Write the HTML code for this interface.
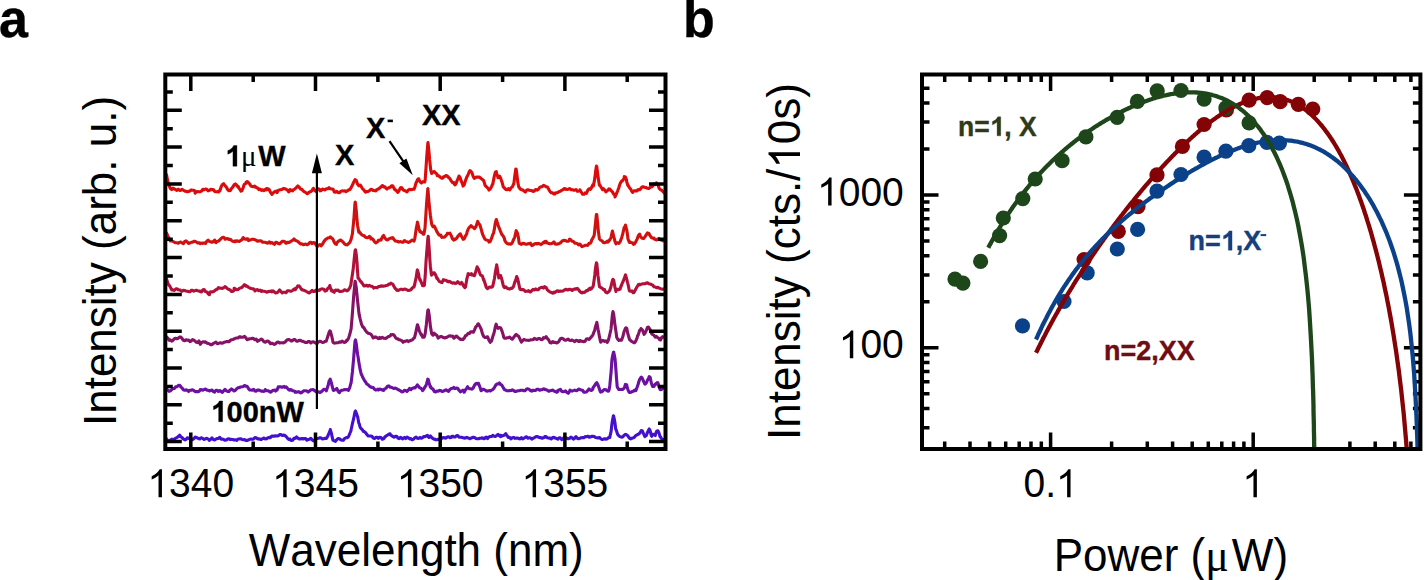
<!DOCTYPE html>
<html><head><meta charset="utf-8"><style>
html,body{margin:0;padding:0;background:#fff;}
svg{display:block;}
text{font-family:"Liberation Sans", sans-serif;}
</style></head><body>
<svg width="1424" height="580" viewBox="0 0 1424 580">
<polyline points="166.5,174.7 167.8,181.2 168.5,183.9 169.1,185.7 170.4,188.7 171.7,189.6 172.0,189.2 173.0,188.2 174.3,188.8 175.6,189.7 176.9,190.4 178.2,189.2 179.5,190.2 180.0,190.5 180.8,190.3 182.1,189.3 183.4,190.2 184.7,191.1 186.0,191.2 187.3,191.7 188.6,191.5 189.9,190.9 191.2,189.9 192.5,190.2 193.8,190.3 195.0,191.1 195.1,193.2 196.4,191.7 197.7,191.6 199.0,191.7 200.3,191.8 201.6,191.0 202.9,189.3 204.2,189.8 205.5,189.0 206.8,189.2 208.1,190.9 209.4,190.4 210.0,190.1 210.7,189.3 212.0,189.8 213.3,189.5 214.6,191.4 215.9,191.8 217.2,191.8 218.5,192.0 219.0,190.9 219.8,190.9 221.1,186.9 221.5,186.0 222.4,184.5 223.6,183.7 223.7,184.2 225.0,185.5 226.0,186.9 226.3,187.0 227.6,189.4 228.8,190.7 228.9,190.3 230.2,190.6 231.5,188.5 232.8,186.9 233.5,186.0 234.1,184.8 235.4,183.9 235.7,184.3 236.7,185.1 238.0,187.2 238.0,186.4 239.3,188.6 240.6,190.3 240.9,191.2 241.9,190.6 243.2,187.7 244.0,184.9 244.5,184.1 245.8,183.6 246.0,182.2 247.1,181.5 248.4,182.5 249.7,184.0 250.0,184.6 251.0,186.1 252.3,186.7 253.6,186.4 254.7,186.9 254.9,186.2 256.2,187.5 257.5,188.0 258.8,189.6 260.1,189.0 261.4,190.3 261.6,190.2 262.7,189.8 264.0,190.6 265.3,189.4 266.6,189.9 266.7,188.5 267.9,188.8 269.2,189.5 270.5,192.4 271.8,194.2 271.9,194.3 273.1,193.0 274.4,191.9 275.7,191.2 277.0,191.0 277.0,192.6 278.3,190.4 279.6,189.8 280.9,189.8 282.2,189.3 282.2,189.3 283.5,188.4 284.8,188.8 286.1,189.2 287.4,190.0 288.7,191.9 289.1,191.7 290.0,189.5 291.3,190.4 292.6,190.9 293.0,190.0 293.9,189.6 295.2,188.7 296.5,187.4 297.8,186.0 298.0,186.7 299.1,187.0 300.4,188.9 301.7,189.2 302.0,189.6 303.0,190.7 304.3,191.7 305.6,192.5 306.9,193.3 307.0,193.8 308.2,193.1 309.5,192.0 310.8,191.6 312.1,190.3 312.2,190.2 313.4,188.3 314.7,190.5 316.0,191.4 317.3,189.2 318.6,188.7 319.9,189.7 320.0,190.9 321.2,190.5 322.5,189.1 323.8,189.5 325.1,189.9 326.4,188.7 327.7,188.8 329.0,187.6 329.5,188.2 330.3,188.8 331.6,189.0 332.9,189.1 334.0,191.1 334.2,191.9 335.5,192.2 336.8,191.3 338.1,192.5 339.4,192.8 339.8,192.3 340.7,191.4 342.0,190.9 343.3,191.0 344.6,190.8 345.9,191.6 347.2,190.9 348.5,190.0 348.5,189.7 349.8,189.8 351.1,187.6 352.3,185.3 352.4,185.2 353.7,182.2 355.0,179.6 355.3,179.7 356.3,180.5 357.6,184.3 358.2,185.0 358.9,185.8 360.2,185.0 361.5,186.9 362.2,188.4 362.8,188.9 364.1,190.3 365.4,192.1 365.7,191.9 366.7,191.6 368.0,191.6 369.3,190.7 370.6,189.6 370.9,189.2 371.9,189.4 373.2,190.5 374.5,190.7 375.8,190.3 376.0,190.9 377.1,189.5 378.4,189.1 379.7,188.1 381.0,186.8 382.3,185.5 382.9,185.8 383.6,187.0 384.9,186.8 386.2,188.4 387.0,189.1 387.5,188.5 388.8,187.8 390.1,187.3 391.4,186.2 391.6,185.7 392.7,185.7 394.0,188.4 395.0,189.9 395.3,189.7 396.6,190.9 397.9,192.4 398.4,191.7 399.2,190.2 400.5,187.7 401.0,187.6 401.8,187.8 403.1,189.9 404.4,190.5 405.7,191.1 407.0,191.2 407.0,192.0 408.3,190.0 409.6,189.2 410.9,189.8 412.2,189.4 413.5,189.3 414.0,189.3 414.8,187.4 416.1,182.6 416.3,182.8 417.4,179.9 418.3,178.7 418.7,178.8 420.0,181.7 421.0,182.5 421.3,183.0 422.6,181.8 423.9,181.6 424.7,182.0 425.2,179.7 426.4,162.2 426.5,159.8 427.8,143.3 428.0,142.6 429.1,153.2 429.6,159.7 430.4,167.2 430.8,170.4 431.7,173.5 432.0,173.2 433.0,172.0 434.0,171.6 434.3,171.5 435.6,173.0 436.9,173.9 437.3,175.7 438.2,175.5 439.5,176.5 440.8,177.6 442.1,178.3 442.9,178.0 443.4,176.8 444.7,176.6 446.0,175.6 447.3,176.0 448.5,177.4 448.6,177.5 449.9,178.7 451.2,180.9 452.5,182.6 453.8,182.5 454.2,183.9 455.1,184.9 456.4,182.7 457.2,180.2 457.7,179.4 459.0,176.0 459.1,176.2 460.3,178.0 461.0,180.5 461.6,181.8 462.9,185.2 463.1,186.1 464.2,184.7 465.5,180.5 466.5,177.9 466.8,177.0 468.1,174.7 469.4,171.4 469.9,170.7 470.7,171.1 472.0,172.8 473.3,176.9 474.3,178.2 474.6,178.4 475.9,177.3 477.2,177.0 478.5,177.1 478.8,177.1 479.8,177.3 481.1,178.6 482.4,179.5 483.7,180.7 484.4,182.9 485.0,185.2 486.3,186.7 487.6,187.9 488.9,189.4 488.9,190.1 490.2,189.0 491.5,186.7 492.5,184.3 492.8,184.1 494.1,177.1 495.4,172.0 496.3,171.5 496.7,173.9 498.0,177.1 498.0,177.8 499.3,176.0 499.5,176.0 500.6,178.0 501.5,180.9 501.9,181.6 503.2,186.7 504.5,188.1 504.6,188.1 505.8,189.4 507.1,189.8 508.4,188.7 509.7,189.9 510.2,189.3 511.0,187.8 512.3,187.0 513.6,183.9 513.8,184.1 514.9,175.0 515.8,169.1 516.2,169.2 517.5,179.5 517.8,182.3 518.8,187.2 519.2,187.2 520.1,188.9 521.4,189.7 522.7,189.9 524.0,191.1 525.0,191.2 525.3,192.1 526.6,190.2 527.9,189.7 529.2,190.3 530.5,190.5 531.8,190.6 533.1,191.4 534.4,191.0 535.0,190.0 535.7,189.5 537.0,190.1 538.3,189.4 539.6,187.6 540.9,186.7 542.2,186.7 543.5,185.4 544.8,185.9 545.0,185.9 546.1,186.7 547.4,187.0 548.7,189.2 549.0,189.8 550.0,191.6 551.3,192.7 552.6,192.9 553.9,194.0 555.0,194.0 555.2,193.1 556.5,192.7 557.8,192.5 559.1,191.6 560.4,191.3 561.7,190.3 563.0,189.7 564.3,188.5 565.3,189.3 565.6,188.8 566.9,189.5 568.2,189.2 569.5,188.5 570.8,189.6 571.6,189.7 572.1,189.6 573.4,190.1 574.7,190.2 576.0,189.6 577.3,191.2 578.6,191.2 579.8,190.6 579.9,189.9 581.2,192.0 582.5,194.2 583.8,194.3 584.0,194.3 585.1,192.9 586.4,193.3 587.7,190.5 589.0,188.7 589.1,188.7 590.3,189.4 591.6,187.5 592.9,184.6 593.3,186.1 594.2,181.9 594.9,177.6 595.5,172.3 596.4,166.1 596.8,166.7 598.0,176.1 598.1,177.6 599.4,185.2 599.5,184.5 600.7,186.6 602.0,188.6 602.6,189.7 603.3,188.6 604.6,189.8 605.9,191.9 607.2,190.8 608.5,189.6 608.8,188.9 609.8,189.1 611.1,190.7 612.4,191.9 613.7,194.1 615.0,195.3 615.0,196.9 616.3,194.0 617.6,191.0 618.9,187.5 619.2,186.3 620.2,183.4 621.5,181.2 621.8,181.3 622.8,180.4 624.1,178.5 624.3,176.6 625.4,177.0 626.5,179.8 626.7,181.8 628.0,185.8 628.5,185.8 629.3,187.6 630.6,189.1 631.9,191.4 632.6,192.4 633.2,191.3 634.5,190.7 635.8,190.9 637.1,190.9 637.8,189.8 638.4,189.6 639.7,189.7 641.0,188.2 642.3,186.9 643.6,186.8 644.9,187.5 646.1,187.6 646.2,187.8 647.5,188.2 648.8,188.4 650.1,187.5 651.4,186.3 652.3,186.6 652.7,186.1 654.0,184.0 654.5,184.3 655.3,184.6 656.4,182.9 656.6,183.2 657.9,184.2 658.5,186.3 659.2,188.4 660.5,189.8 660.5,189.6 661.8,190.2 663.1,191.8 664.0,192.8" fill="none" stroke="#dc0c0c" stroke-width="3.1" stroke-linejoin="round" stroke-linecap="round"/>
<polyline points="166.5,232.8 167.8,235.9 168.5,237.4 169.1,238.4 170.0,240.5 170.4,241.0 171.7,240.8 173.0,241.5 174.3,242.2 175.6,242.8 176.9,242.8 178.2,243.2 179.5,242.3 180.0,242.3 180.8,242.0 182.1,242.9 183.4,243.7 184.7,241.4 186.0,240.9 187.3,242.0 188.6,243.4 189.9,243.0 191.2,242.2 192.5,242.2 193.8,241.4 195.1,241.3 196.4,242.0 197.7,242.9 199.0,242.7 200.0,242.9 200.3,243.7 201.6,243.1 202.9,243.4 204.2,242.8 205.5,243.5 206.8,241.2 208.1,240.2 209.4,241.5 210.7,241.8 212.0,242.3 213.3,241.8 214.6,240.1 215.0,241.1 215.9,242.6 217.2,241.2 218.5,241.2 219.8,239.9 221.1,238.5 222.4,237.6 223.7,237.3 224.5,238.1 225.0,239.2 226.3,238.7 227.6,238.5 228.9,239.5 230.2,239.2 231.5,240.4 232.8,241.3 234.1,241.6 235.0,240.8 235.4,241.7 236.7,240.9 238.0,241.1 239.3,241.4 240.6,240.6 241.9,239.7 243.2,237.6 244.5,238.9 245.8,239.2 247.1,238.8 247.8,238.8 248.4,240.6 249.7,240.0 251.0,239.8 252.3,239.2 253.6,239.3 254.9,239.7 255.0,239.8 256.2,240.2 257.5,241.2 258.8,240.9 260.1,240.7 261.4,241.0 262.7,242.3 264.0,242.3 265.3,242.3 266.6,242.9 267.9,243.1 269.2,241.9 270.0,242.4 270.5,243.2 271.8,242.6 273.1,243.4 274.4,244.3 275.7,242.3 277.0,242.6 278.3,243.6 279.6,243.9 280.9,242.6 282.2,241.3 283.5,241.3 284.8,241.7 285.0,242.3 286.1,243.3 287.4,242.2 288.7,242.6 290.0,242.0 291.3,241.1 292.6,240.3 293.9,239.0 295.0,240.0 295.2,240.4 296.5,240.7 297.8,241.5 299.1,242.7 300.4,243.9 301.7,243.7 303.0,244.6 303.6,244.7 304.3,244.4 305.6,244.0 306.9,244.7 308.2,244.3 309.5,242.8 310.8,242.3 312.0,243.1 312.1,243.6 313.4,242.6 314.7,242.8 316.0,244.9 317.3,246.6 318.6,245.3 319.9,244.5 320.9,245.1 321.2,245.8 322.5,244.3 323.8,241.7 325.1,240.0 326.4,238.8 327.7,238.1 329.0,237.8 330.3,237.6 330.3,236.9 331.6,237.9 332.9,239.2 334.2,242.2 335.5,244.1 336.4,244.4 336.8,242.9 338.1,241.6 339.4,240.6 340.7,240.0 340.7,240.4 342.0,241.0 343.3,242.3 344.6,243.9 345.9,244.8 346.7,244.8 347.2,244.9 348.5,243.6 349.8,242.5 351.1,239.4 351.9,236.0 352.4,233.9 353.7,220.9 353.8,220.0 355.0,202.9 355.3,202.2 356.3,211.0 357.0,220.0 357.6,225.7 358.8,232.3 358.9,231.2 360.2,233.1 361.5,234.5 362.8,235.4 364.0,235.8 364.1,235.7 365.4,237.3 366.7,237.6 368.0,237.7 369.3,236.4 370.6,237.2 370.9,239.0 371.9,238.6 373.2,239.6 374.5,241.7 375.8,242.8 377.1,242.1 377.8,241.6 378.4,240.3 379.7,240.1 381.0,240.0 382.3,237.1 383.6,235.5 383.8,236.0 384.9,238.0 386.2,239.5 387.5,240.0 387.5,240.0 388.8,238.9 390.1,238.3 391.4,237.9 391.6,238.1 392.7,237.6 394.0,239.5 395.3,241.0 396.6,241.3 397.9,241.4 398.4,242.0 399.2,241.9 400.5,241.6 401.8,242.2 403.1,242.2 404.4,240.6 405.0,240.8 405.7,241.5 407.0,241.7 408.3,242.5 409.6,241.9 410.9,241.1 412.2,240.1 413.5,240.1 414.0,241.1 414.8,238.6 415.8,231.8 416.1,229.4 417.4,222.7 417.4,222.0 418.7,227.3 419.0,228.9 420.0,231.7 420.9,232.4 421.3,232.0 422.6,233.3 423.4,234.3 423.9,234.2 425.0,228.0 425.2,225.2 426.5,204.8 426.5,204.6 427.8,188.8 427.9,188.6 429.1,203.8 429.3,205.2 430.4,215.5 431.7,224.3 431.7,224.2 433.0,226.8 434.0,226.7 434.3,226.2 435.6,228.8 436.9,231.6 438.2,233.8 438.5,234.4 439.5,235.2 440.8,235.1 441.8,237.3 442.1,237.2 443.4,237.3 444.7,236.9 446.0,235.4 447.3,233.9 447.4,233.4 448.6,233.6 449.9,233.1 451.2,235.6 452.5,238.8 453.8,240.0 454.2,239.1 455.1,239.4 456.4,238.5 457.7,236.6 459.0,235.0 459.8,234.1 460.3,233.8 461.6,236.5 462.9,238.7 463.1,239.3 464.2,239.0 465.5,235.8 466.8,233.8 467.0,232.3 468.1,229.3 469.4,227.2 470.7,226.2 471.0,225.6 472.0,226.8 473.3,227.4 474.3,228.5 474.6,228.7 475.9,226.7 477.2,223.1 477.7,221.4 478.5,223.3 479.8,224.8 481.1,228.8 482.2,233.1 482.4,233.6 483.7,236.8 485.0,239.2 486.3,240.0 487.6,240.2 488.9,241.0 488.9,242.1 490.2,241.5 491.5,238.4 492.8,234.5 493.5,233.2 494.1,230.7 495.4,222.5 496.3,219.5 496.7,220.6 498.0,224.7 499.3,228.4 499.5,228.8 500.6,231.7 501.9,234.6 503.2,236.0 504.5,238.6 504.6,240.0 505.8,242.2 507.1,243.5 508.4,244.0 509.7,243.8 510.2,244.2 511.0,244.0 512.3,242.8 513.6,239.4 514.5,237.8 514.9,236.4 516.2,230.7 516.5,231.2 517.5,233.2 518.5,237.9 518.8,240.2 519.2,243.4 520.1,243.7 521.4,244.4 522.7,243.2 524.0,243.5 525.3,244.1 526.6,244.2 527.9,243.8 529.2,243.5 530.0,243.9 530.5,243.2 531.8,245.6 533.1,245.1 534.4,243.9 535.7,243.5 537.0,244.0 538.3,243.4 539.6,243.7 540.9,244.6 542.2,243.7 543.5,242.3 544.8,241.5 545.0,242.7 546.1,241.3 547.4,243.1 548.7,243.4 550.0,243.8 551.3,243.6 552.6,243.2 553.9,242.0 555.0,243.3 555.2,243.9 556.5,244.3 557.8,243.9 559.1,243.5 560.4,242.9 561.7,241.5 563.0,240.5 564.3,240.4 565.6,240.6 566.9,241.3 568.2,241.3 569.5,240.3 569.5,239.0 570.8,239.8 572.1,241.2 573.4,241.6 574.7,243.1 575.0,242.9 576.0,243.3 577.3,243.5 578.6,244.8 579.9,244.1 581.2,245.7 581.9,246.6 582.5,246.3 583.8,245.9 585.1,245.3 586.4,245.3 587.7,245.4 589.0,243.4 590.3,243.2 591.2,241.7 591.6,240.3 592.9,237.9 594.2,235.4 594.5,232.7 595.5,222.8 596.4,214.5 596.8,214.7 598.1,228.2 598.2,230.1 599.4,238.5 599.5,239.0 600.7,240.2 602.0,240.8 603.3,242.4 604.6,242.7 605.9,242.3 607.2,241.1 607.8,242.1 608.5,241.5 609.8,239.8 610.8,238.0 611.1,236.8 612.4,231.0 612.5,231.3 613.7,236.4 614.2,238.1 615.0,241.6 616.0,243.9 616.3,242.8 617.6,242.7 618.9,243.4 620.2,241.6 621.0,239.4 621.5,238.3 622.8,233.7 623.5,230.7 624.1,227.7 625.4,225.8 625.4,225.0 626.7,229.8 627.3,233.3 628.0,239.0 629.3,242.3 629.5,241.5 630.6,242.4 631.9,242.8 633.2,243.3 633.6,244.3 634.5,243.9 635.8,241.7 637.1,239.1 638.4,235.5 639.7,234.1 639.9,235.4 641.0,237.3 642.3,238.3 643.6,238.6 644.0,238.1 644.9,236.9 646.2,234.9 647.5,233.0 648.1,233.8 648.8,233.4 650.1,235.6 651.4,237.5 652.7,238.1 654.0,238.0 654.3,239.1 655.3,239.4 656.6,240.0 657.9,239.0 659.2,238.6 660.5,239.9 661.8,239.9 662.6,240.8 663.1,240.9 664.0,240.6" fill="none" stroke="#d21010" stroke-width="3.1" stroke-linejoin="round" stroke-linecap="round"/>
<polyline points="166.5,278.8 167.8,282.9 168.5,284.7 169.1,285.1 170.4,287.2 171.7,289.8 171.9,289.2 173.0,290.1 174.3,290.4 175.6,289.1 176.9,288.7 178.2,289.8 179.5,290.1 180.0,289.9 180.8,290.6 182.1,291.3 183.4,290.3 184.7,290.5 186.0,290.9 187.3,291.2 188.6,291.6 189.9,291.7 190.9,291.0 191.2,290.3 192.5,290.4 193.8,291.2 195.1,290.6 196.4,290.3 197.7,290.8 199.0,291.1 200.0,291.0 200.3,291.7 201.6,291.9 202.9,289.8 204.2,289.6 205.5,291.6 206.8,291.9 208.1,293.7 209.4,294.7 209.8,292.4 210.7,291.8 212.0,291.9 213.3,291.7 214.6,290.7 215.9,289.7 217.2,289.2 218.5,287.6 219.8,288.1 221.1,288.3 222.4,288.4 223.7,287.7 224.5,287.2 225.0,286.6 226.3,287.5 227.6,288.8 228.9,289.6 230.2,290.0 231.5,291.5 232.8,291.5 234.0,290.3 234.1,288.2 235.4,288.9 236.7,289.8 238.0,289.4 239.3,288.4 240.6,287.8 241.9,287.6 243.2,286.0 244.5,284.6 245.8,285.7 246.0,286.3 247.1,286.1 248.4,287.2 249.7,288.0 251.0,288.4 252.3,288.9 253.6,288.8 254.7,289.8 254.9,290.9 256.2,290.0 257.5,289.6 258.8,290.7 260.1,290.0 261.4,291.3 262.0,290.7 262.7,291.2 264.0,291.3 265.3,291.5 266.6,292.2 267.9,291.7 269.2,291.3 270.5,291.5 271.8,290.9 271.9,291.9 273.1,290.8 274.4,292.0 275.7,292.9 277.0,292.8 278.3,291.6 279.6,290.0 280.9,291.5 282.2,292.9 283.5,292.2 284.8,292.3 285.7,292.2 286.1,292.7 287.4,290.8 288.7,290.8 290.0,291.1 291.3,291.2 292.6,290.5 293.9,289.2 295.0,288.7 295.2,289.8 296.5,287.8 297.8,285.9 298.1,286.1 299.1,285.9 300.4,287.7 301.7,289.8 302.0,289.3 303.0,290.1 304.3,290.5 305.6,290.9 306.9,291.8 307.4,291.9 308.2,292.8 309.5,292.9 310.8,291.6 312.1,290.3 313.4,291.5 314.7,291.4 316.0,290.0 317.3,289.9 318.6,290.4 319.8,290.2 319.9,289.7 321.2,289.0 322.5,288.9 323.8,289.2 325.1,291.1 326.4,290.6 327.5,288.7 327.7,288.5 329.0,287.4 329.8,285.5 330.3,287.7 331.6,290.9 332.0,290.2 332.9,291.4 334.2,292.3 334.3,291.2 335.5,290.0 336.8,290.4 338.1,290.0 339.4,291.4 340.7,291.5 342.0,291.2 343.3,290.9 344.6,289.8 345.9,290.2 346.8,290.9 347.2,290.9 348.5,289.8 349.8,287.7 350.9,284.9 351.1,283.0 352.4,274.5 353.3,268.1 353.7,264.0 355.0,251.3 355.5,249.8 356.3,254.8 357.0,262.4 357.6,272.2 358.1,278.3 358.9,278.6 360.2,281.1 361.3,281.8 361.5,282.5 362.8,284.1 364.1,286.0 365.4,285.7 366.7,285.2 367.5,285.8 368.0,286.1 369.3,285.4 370.6,286.1 371.9,286.2 373.2,287.2 373.7,288.1 374.5,287.5 375.8,287.5 377.1,287.8 378.4,286.5 379.7,286.5 381.0,285.9 382.3,286.1 383.6,286.0 384.0,286.1 384.9,285.9 386.2,285.6 387.5,285.3 388.8,284.0 390.1,284.1 390.9,283.1 391.4,283.6 392.7,284.1 394.0,286.4 395.3,288.6 396.4,289.3 396.6,290.3 397.9,290.4 399.2,290.0 400.5,289.2 401.8,289.3 403.1,289.7 404.4,289.0 405.7,289.3 407.0,289.9 408.3,290.5 409.6,290.3 410.9,289.8 410.9,289.8 412.2,288.0 413.5,287.1 414.0,287.1 414.8,284.0 415.5,280.3 416.1,277.9 417.2,270.5 417.4,269.9 418.7,274.5 419.0,277.0 420.0,280.4 420.3,279.9 421.3,282.3 422.6,285.8 423.9,285.7 424.4,285.0 425.2,276.0 426.0,261.8 426.5,255.3 427.8,238.8 428.2,236.2 429.1,247.3 430.0,261.9 430.4,266.7 431.5,275.1 431.7,274.0 433.0,273.0 434.1,274.0 434.3,272.8 435.6,274.8 436.9,278.4 436.9,277.6 438.2,279.8 439.5,281.6 440.8,282.2 442.1,282.6 442.3,281.9 443.4,279.7 444.7,280.2 446.0,280.3 447.3,281.4 448.6,281.8 448.7,281.4 449.9,281.5 451.2,282.6 452.5,283.2 453.8,282.7 455.1,283.5 455.2,283.2 456.4,283.3 457.7,281.7 459.0,283.0 460.3,284.0 460.6,283.8 461.6,282.4 462.9,284.6 464.2,286.9 464.9,287.6 465.5,286.9 466.8,279.2 468.1,274.2 468.1,273.5 469.4,274.2 470.7,274.4 471.4,273.7 472.0,275.0 473.3,275.1 474.2,275.7 474.6,275.4 475.9,271.1 477.2,266.8 477.4,267.7 478.5,269.1 479.8,273.4 480.6,275.0 481.1,275.4 482.4,276.0 483.7,280.4 483.7,279.2 485.0,283.3 486.3,287.5 487.5,288.7 487.6,288.5 488.9,287.3 490.2,287.1 491.5,287.2 491.9,287.1 492.8,286.1 494.1,280.1 494.5,278.2 495.4,272.1 496.6,265.4 496.7,264.8 498.0,273.1 498.8,278.0 499.3,277.7 500.5,276.0 500.6,275.5 501.9,279.6 503.2,285.2 503.7,286.5 504.5,287.6 505.8,286.9 507.1,288.3 508.4,288.7 509.7,289.1 511.0,288.2 511.3,288.4 512.3,288.2 513.6,286.4 514.8,281.9 514.9,282.3 516.2,278.4 516.7,276.5 517.5,278.5 518.5,282.5 518.8,284.2 519.9,288.8 520.1,289.3 521.4,289.8 522.7,289.5 524.0,290.0 525.3,291.4 526.6,291.3 527.9,291.0 528.5,290.7 529.2,291.6 530.5,292.0 531.8,290.6 533.1,289.4 534.4,289.9 535.7,288.9 537.0,289.8 538.3,289.7 539.6,288.1 540.9,287.6 542.2,287.2 543.5,287.2 543.6,288.1 544.8,286.7 546.1,287.6 547.4,289.9 548.7,291.1 550.0,292.1 551.3,292.4 552.6,293.2 553.9,292.2 554.4,292.8 555.2,292.3 556.5,291.3 557.8,290.8 558.7,291.5 559.1,291.3 560.4,291.0 561.7,291.2 563.0,291.0 564.3,290.1 565.6,289.4 566.9,289.6 567.4,290.0 568.2,289.9 569.5,289.2 570.8,289.6 572.1,290.5 573.4,289.3 574.7,289.1 575.7,289.3 576.0,288.7 577.3,288.4 578.6,289.8 579.9,291.5 581.2,292.6 581.9,292.9 582.5,292.2 583.8,292.5 585.1,292.0 586.4,290.5 587.7,290.7 589.0,288.8 590.2,288.2 590.3,289.5 591.6,288.6 592.9,286.9 593.3,285.5 594.2,279.6 594.8,275.0 595.5,268.1 596.4,262.9 596.8,263.5 598.0,275.7 598.1,276.4 599.4,286.2 599.5,286.7 600.7,287.5 602.0,288.1 603.3,289.6 604.6,289.6 604.7,290.4 605.9,292.3 607.2,292.9 608.5,291.8 608.8,291.8 609.8,290.2 611.1,286.3 611.2,285.4 612.4,280.5 613.0,279.3 613.7,280.4 614.7,285.9 615.0,287.7 616.0,291.5 616.3,289.8 617.6,289.3 618.9,289.8 620.2,288.9 620.2,288.4 621.5,285.1 622.8,282.0 623.3,281.0 624.1,278.9 625.4,275.4 625.4,274.7 626.7,279.0 627.5,282.3 628.0,284.1 629.3,290.5 629.5,290.9 630.6,291.2 631.9,290.9 633.2,292.8 633.6,292.8 634.5,291.6 635.8,289.0 637.1,286.7 638.4,284.6 639.7,284.3 639.9,284.8 641.0,284.4 642.3,283.9 643.6,283.7 644.9,283.8 646.1,283.1 646.2,283.2 647.5,282.8 648.8,283.7 650.1,284.0 651.4,284.4 652.3,285.1 652.7,285.0 654.0,286.8 655.3,287.0 656.4,287.6 656.6,287.8 657.9,287.3 659.2,288.1 660.5,288.7 661.8,289.0 662.6,289.3 663.1,289.0 664.0,289.2" fill="none" stroke="#b2103a" stroke-width="3.1" stroke-linejoin="round" stroke-linecap="round"/>
<polyline points="166.5,337.0 167.8,338.1 169.1,340.3 170.0,339.9 170.4,339.8 171.7,341.1 173.0,340.4 174.3,338.7 175.6,338.3 176.9,338.7 178.2,338.2 179.5,337.1 180.8,337.1 182.1,338.6 182.2,338.7 183.4,340.3 184.7,340.8 186.0,339.7 187.3,340.2 188.6,340.1 189.9,341.6 191.2,341.0 192.5,339.5 193.8,340.2 195.1,341.1 196.4,342.2 197.7,342.6 199.0,341.0 199.5,342.3 200.3,344.3 201.6,342.6 202.9,341.8 204.2,342.1 205.5,341.9 206.8,343.0 208.1,343.4 209.4,343.9 210.7,344.6 212.0,344.7 213.3,343.4 214.6,342.8 215.9,342.0 216.7,343.2 217.2,343.7 218.5,343.4 219.8,342.8 221.1,342.9 222.4,343.3 223.7,342.5 225.0,342.1 226.3,341.6 227.6,341.6 228.9,341.7 230.0,340.9 230.2,340.2 231.5,339.8 232.8,339.5 234.1,339.1 235.4,338.2 236.7,338.0 238.0,338.0 239.3,336.8 240.6,336.7 240.9,337.3 241.9,337.3 243.2,337.1 244.5,336.4 245.8,337.6 247.1,339.7 248.4,339.3 249.7,338.8 251.0,338.8 252.3,338.2 253.6,338.5 254.7,339.7 254.9,339.7 256.2,339.1 257.5,341.3 258.8,340.5 260.1,339.9 261.4,339.1 262.7,340.1 264.0,341.8 265.3,342.2 266.6,341.2 267.9,341.0 269.2,342.0 270.5,343.7 271.8,343.2 271.9,343.3 273.1,343.8 274.4,344.4 275.7,343.6 277.0,342.3 278.3,342.1 279.6,343.0 280.9,342.7 282.2,342.7 283.5,342.9 284.8,342.2 285.7,341.5 286.1,340.8 287.4,339.8 288.7,339.5 290.0,340.1 291.3,341.1 292.6,340.5 293.9,339.5 295.0,339.5 295.2,339.8 296.5,341.2 297.8,341.1 299.1,340.4 300.4,340.4 301.7,341.1 303.0,341.3 304.3,342.0 305.6,342.5 306.9,342.5 308.2,341.5 309.5,341.6 310.8,343.0 312.1,342.0 313.4,341.7 314.7,342.6 315.7,342.9 316.0,343.1 317.3,343.3 318.6,341.8 319.9,341.2 321.2,341.7 322.5,342.5 323.8,342.2 325.1,341.4 326.0,341.2 326.4,340.9 327.7,336.6 328.0,335.9 329.0,332.5 329.8,330.9 330.3,331.3 331.6,335.8 331.6,335.5 332.9,341.8 333.3,342.7 334.2,343.1 335.5,343.0 336.8,342.8 338.1,342.8 339.4,341.9 340.7,342.2 342.0,341.1 343.3,342.0 344.6,342.4 345.9,341.8 346.8,340.0 347.2,340.4 348.5,338.4 349.8,334.3 350.9,329.6 351.1,329.2 352.4,313.3 353.0,305.1 353.7,295.9 355.0,282.0 355.2,281.3 356.3,287.8 357.0,294.9 357.6,301.1 358.9,312.8 359.2,314.7 360.2,319.2 361.5,324.1 362.8,327.1 363.3,327.1 364.1,328.0 365.4,330.4 366.7,332.1 367.5,332.7 368.0,333.2 369.3,333.6 370.6,333.9 371.9,335.6 373.2,337.9 373.7,337.1 374.5,337.5 375.8,336.9 377.1,337.8 378.4,338.7 379.7,337.5 379.9,338.4 381.0,338.2 382.3,337.4 383.6,338.2 384.9,338.3 385.0,338.4 386.2,338.2 387.5,337.1 388.8,336.4 390.1,336.1 390.9,334.7 391.4,334.9 392.7,334.6 394.0,335.0 395.3,337.2 396.6,338.6 397.9,338.8 398.5,339.5 399.2,339.8 400.5,340.1 401.8,340.7 403.1,342.3 404.4,341.4 405.7,341.2 407.0,340.6 408.3,341.6 409.6,340.8 410.9,340.6 410.9,340.2 412.2,339.9 413.5,338.4 414.5,337.7 414.8,336.5 416.0,331.7 416.1,330.9 417.4,324.7 417.6,324.9 418.7,328.3 419.3,330.9 420.0,332.4 421.3,335.1 421.3,334.0 422.6,337.3 423.9,337.3 424.4,336.6 425.2,333.6 426.3,325.0 426.5,323.0 427.8,310.3 428.3,309.8 429.1,314.5 430.0,322.4 430.4,326.3 431.5,332.7 431.7,333.8 433.0,335.1 434.1,333.2 434.3,333.7 435.6,334.4 436.9,335.4 437.9,337.3 438.2,338.1 439.5,337.1 440.8,336.5 442.1,336.8 443.4,337.6 444.7,338.0 446.0,337.6 446.6,337.2 447.3,337.1 448.6,336.2 449.9,335.8 451.2,336.2 452.5,336.1 453.0,336.3 453.8,338.2 455.1,337.2 456.4,336.0 457.7,337.2 459.0,338.2 460.3,339.5 461.6,339.3 462.9,339.6 463.8,338.5 464.2,338.3 465.5,335.7 466.8,335.2 468.1,333.3 468.1,333.5 469.4,333.4 470.7,331.8 472.0,331.9 472.4,331.9 473.3,332.2 474.6,329.7 475.9,326.7 477.2,325.6 477.8,324.0 478.5,323.9 479.8,326.4 481.1,329.0 482.1,332.4 482.4,333.6 483.7,336.5 485.0,337.4 486.3,337.5 486.5,337.1 487.6,336.8 488.9,340.1 490.2,342.3 490.8,341.5 491.5,341.1 492.8,336.6 494.0,332.9 494.1,332.8 495.4,326.5 496.2,324.1 496.7,326.1 498.0,328.3 498.0,328.1 499.3,327.6 500.0,327.8 500.6,327.7 501.9,330.8 503.2,334.9 503.7,337.2 504.5,338.1 505.8,338.2 507.1,337.7 508.4,337.7 509.7,337.0 511.0,338.5 511.3,338.5 512.3,339.2 513.6,337.6 514.9,335.7 516.2,334.4 516.7,335.2 517.5,335.6 518.8,336.6 520.1,339.4 521.4,342.1 522.0,341.1 522.7,340.8 524.0,339.4 525.3,339.9 526.6,340.3 527.9,340.2 529.2,340.4 530.5,339.9 531.8,339.8 533.1,339.8 534.4,338.4 535.7,339.1 537.0,339.5 538.3,338.6 539.6,338.6 540.9,339.5 542.2,339.6 543.5,337.7 543.6,338.2 544.8,338.0 546.1,336.7 547.4,338.6 548.7,339.9 550.0,342.6 551.3,343.0 552.6,341.6 553.9,342.4 555.0,342.4 555.2,342.3 556.5,343.0 557.8,342.4 559.1,341.1 560.4,338.7 561.7,338.2 563.0,338.7 564.3,339.9 565.6,340.2 566.9,339.8 567.4,339.5 568.2,339.1 569.5,340.2 570.8,340.6 572.1,340.0 573.4,340.8 574.7,341.6 576.0,340.4 577.3,340.6 578.6,341.4 579.8,341.4 579.9,340.5 581.2,340.9 582.5,341.2 583.8,341.7 585.1,341.3 586.4,339.0 587.7,338.7 589.0,339.5 590.3,338.1 591.2,337.2 591.6,336.5 592.9,334.9 594.2,331.3 594.5,331.0 595.5,326.7 596.8,322.8 596.8,322.3 598.1,329.5 598.5,331.3 599.4,336.4 600.1,339.8 600.7,342.2 602.0,340.6 603.3,340.6 604.6,341.4 605.9,340.8 606.7,341.7 607.2,342.5 608.5,339.8 609.8,334.5 610.8,330.0 611.1,328.2 612.4,314.6 613.0,311.6 613.7,314.4 615.0,325.4 615.0,324.9 616.3,334.0 616.7,337.2 617.6,338.9 618.9,340.4 620.2,339.8 621.2,340.2 621.5,340.2 622.8,336.8 623.7,333.1 624.1,331.5 625.4,328.4 625.8,327.8 626.7,328.1 627.8,333.6 628.0,334.2 629.3,338.7 629.5,339.5 630.6,340.6 631.9,341.6 633.2,342.1 633.6,342.8 634.5,342.7 635.8,341.0 637.1,337.8 637.5,336.1 638.4,334.4 639.7,330.3 640.9,329.1 641.0,328.5 642.3,329.8 643.6,332.8 644.0,334.3 644.9,333.4 646.2,330.7 647.5,327.2 648.5,327.1 648.8,327.6 650.1,329.5 651.4,333.2 652.3,334.4 652.7,334.5 654.0,335.3 655.3,337.2 656.4,336.5 656.6,336.8 657.9,337.8 659.2,338.6 659.5,339.6 660.5,340.0 661.8,337.3 662.6,336.7 663.1,337.1 664.0,337.0" fill="none" stroke="#861266" stroke-width="3.1" stroke-linejoin="round" stroke-linecap="round"/>
<polyline points="166.5,389.0 167.8,390.1 169.1,391.4 170.4,390.9 171.7,389.6 172.0,389.3 173.0,388.6 174.3,388.5 175.6,386.9 176.9,386.7 178.2,385.6 179.5,385.2 180.5,386.1 180.8,387.1 182.1,388.0 183.4,389.8 184.7,390.3 186.0,389.9 186.0,389.8 187.3,390.2 188.6,391.5 189.9,390.2 191.2,390.2 192.5,389.7 193.8,390.6 195.1,391.6 196.4,391.5 197.7,391.6 199.0,391.4 200.0,390.4 200.3,389.5 201.6,389.8 202.9,390.2 204.2,389.5 205.5,389.1 206.8,390.1 208.1,390.3 209.4,391.0 210.7,390.4 212.0,390.0 213.3,391.5 214.6,392.1 215.0,391.1 215.9,390.4 217.2,390.3 218.5,391.5 219.8,390.5 221.1,391.5 222.4,392.4 223.7,390.7 225.0,389.3 226.3,390.7 227.6,391.5 228.9,391.5 230.0,390.0 230.2,390.0 231.5,388.9 232.8,389.9 234.1,391.0 235.4,390.3 236.7,388.7 238.0,387.8 239.3,387.6 240.6,387.0 241.9,386.8 243.2,386.5 244.5,385.6 245.8,386.0 246.0,386.3 247.1,386.3 248.4,388.4 249.7,390.0 251.0,390.0 252.0,390.2 252.3,390.0 253.6,389.3 254.9,391.0 256.2,391.2 257.5,390.0 258.8,390.1 260.1,390.4 261.4,391.3 262.7,391.0 264.0,391.4 265.0,390.6 265.3,389.6 266.6,390.8 267.9,390.7 269.2,391.4 270.5,392.2 271.8,391.2 273.1,390.2 274.4,390.1 275.0,390.0 275.7,391.0 277.0,390.1 278.3,386.9 279.6,386.7 280.9,386.9 282.2,387.3 283.5,386.8 284.0,386.4 284.8,387.4 286.1,386.8 287.4,388.3 288.7,389.7 290.0,390.2 290.0,389.5 291.3,389.7 292.6,390.8 293.9,391.0 295.0,391.4 295.2,392.3 296.5,392.1 297.8,391.9 299.1,391.7 300.4,392.9 301.7,392.5 303.0,391.4 304.3,390.7 305.6,390.8 306.9,391.1 308.2,392.1 309.5,391.1 310.8,389.8 312.1,389.7 313.4,389.6 314.7,390.7 315.7,391.3 316.0,391.7 317.3,391.4 318.6,391.9 319.9,392.5 321.2,391.9 322.5,390.6 323.8,389.2 325.1,389.5 326.1,390.1 326.4,390.9 327.7,386.5 328.3,384.9 329.0,381.3 330.2,379.2 330.3,379.4 331.6,383.4 332.0,385.8 332.9,388.9 333.3,390.4 334.2,390.3 335.5,389.4 336.8,388.5 338.1,391.3 339.4,392.6 340.7,390.7 342.0,390.2 343.3,389.9 344.6,389.5 345.9,389.8 346.8,389.6 347.2,389.6 348.5,390.3 349.8,387.4 350.9,383.1 351.1,383.1 352.4,371.9 353.5,360.0 353.7,357.6 355.0,341.3 355.5,339.9 356.3,344.0 357.0,349.9 357.6,354.2 358.1,357.2 358.9,362.4 360.2,369.9 361.3,374.3 361.5,374.3 362.8,377.5 364.1,379.8 365.4,381.8 365.4,381.6 366.7,383.9 368.0,384.7 369.3,386.0 370.6,387.1 371.6,387.0 371.9,387.4 373.2,387.6 374.5,389.2 375.8,390.1 377.1,389.8 377.8,389.1 378.4,390.0 379.7,389.0 381.0,389.4 382.3,390.1 383.6,390.4 384.0,389.4 384.9,388.9 386.2,388.0 387.5,386.3 388.8,385.9 390.1,387.2 390.2,387.0 391.4,387.2 392.7,388.1 394.0,388.4 395.3,388.1 396.6,388.7 397.9,389.6 398.5,389.7 399.2,390.1 400.5,390.8 401.8,391.9 403.1,391.8 404.4,390.3 405.7,390.5 407.0,391.5 408.3,390.2 409.6,388.4 410.9,389.6 410.9,389.4 412.2,388.5 413.5,387.9 414.8,387.5 415.0,387.9 416.1,386.7 417.2,385.2 417.4,384.9 418.7,386.4 419.5,387.7 420.0,387.9 421.3,388.5 422.3,390.0 422.6,390.7 423.9,388.9 425.2,386.5 425.8,386.0 426.5,383.9 427.8,379.2 428.3,379.7 429.1,382.9 430.4,387.3 430.5,386.2 431.6,388.4 431.7,388.6 433.0,389.0 434.3,391.5 435.6,391.9 436.9,391.1 438.2,391.1 439.5,390.3 440.2,390.8 440.8,390.6 442.1,391.5 443.4,391.2 444.7,390.4 446.0,389.8 447.3,390.8 448.6,391.4 449.9,389.4 451.2,388.5 452.5,388.2 453.4,388.2 453.8,387.4 455.1,388.6 456.4,388.1 457.7,388.3 459.0,390.3 460.3,391.8 461.6,391.2 462.9,390.2 463.9,391.6 464.2,392.2 465.5,389.8 466.8,388.1 467.7,386.7 468.1,387.8 469.4,388.7 470.7,388.7 471.5,388.9 472.0,389.2 473.3,387.9 474.6,385.0 475.9,383.5 477.1,383.4 477.2,383.8 478.5,383.4 479.8,386.8 481.1,390.7 481.9,390.2 482.4,389.3 483.7,389.2 485.0,390.0 486.3,390.9 487.6,391.1 488.9,390.8 490.2,390.5 490.4,391.0 491.5,390.3 492.8,389.5 494.1,388.1 495.4,385.8 496.1,384.6 496.7,384.1 498.0,383.9 499.3,382.9 500.6,384.3 500.8,384.7 501.9,385.2 503.2,387.6 504.5,389.5 504.6,389.7 505.8,390.1 507.1,390.8 508.4,390.8 509.7,390.6 511.0,390.5 512.3,389.9 513.6,390.5 514.9,391.5 516.2,391.4 517.5,390.8 518.8,390.7 519.8,390.7 520.1,390.4 521.4,390.3 522.7,390.3 524.0,390.8 525.3,390.6 526.6,389.1 527.9,388.8 529.2,389.4 530.5,390.6 531.8,391.2 532.0,390.7 533.1,390.2 534.4,390.5 535.7,390.4 537.0,389.2 538.3,389.2 539.6,390.2 540.9,389.7 542.2,389.6 543.5,388.9 544.5,389.5 544.8,389.1 546.1,389.8 547.4,390.2 548.7,391.2 550.0,390.8 551.3,390.4 552.6,390.1 553.9,391.1 555.2,391.5 556.5,392.3 557.7,391.6 557.8,390.5 559.1,390.1 560.4,389.3 561.7,391.3 563.0,391.8 564.3,391.5 565.6,390.9 566.9,392.5 568.2,393.3 569.5,391.5 570.0,390.1 570.8,390.6 572.1,391.1 573.4,390.6 574.7,390.1 576.0,390.7 577.3,390.4 578.6,389.1 579.9,389.5 581.2,389.9 582.5,390.2 583.4,391.5 583.8,392.2 585.1,392.2 586.4,392.0 587.7,390.6 589.0,389.0 590.3,390.2 591.6,390.4 592.9,389.1 592.9,388.0 594.2,386.2 595.5,384.1 596.7,382.7 596.8,382.6 598.1,385.2 599.4,389.1 600.1,391.1 600.7,392.1 602.0,391.8 603.3,390.3 604.3,389.6 604.6,389.5 605.9,389.8 607.2,390.9 608.5,391.1 609.0,390.3 609.8,385.4 610.8,375.0 611.1,372.1 611.9,360.1 612.4,356.8 613.4,352.4 613.7,352.1 615.0,358.5 615.3,362.0 616.3,375.1 616.3,375.9 617.2,386.6 617.6,387.7 618.9,389.5 620.2,389.5 621.4,389.4 621.5,389.5 622.8,389.4 624.1,388.2 624.5,387.4 625.4,384.4 626.7,384.7 626.7,385.5 628.0,389.9 629.0,392.0 629.3,392.4 630.6,392.4 631.9,391.7 633.2,391.2 634.5,390.2 634.6,390.6 635.8,390.6 637.1,387.3 638.4,383.4 638.5,382.6 639.7,379.4 641.0,377.4 641.3,377.1 642.3,378.3 643.6,381.3 644.9,384.2 645.1,384.2 646.2,383.2 647.5,380.2 648.8,377.7 649.2,376.7 650.1,377.1 651.4,383.2 652.6,386.4 652.7,386.0 654.0,386.4 655.3,384.1 655.5,384.6 656.6,383.2 657.4,382.6 657.9,382.8 659.2,387.2 660.2,389.7 660.5,389.7 661.8,389.2 663.0,387.6 663.1,386.9 664.0,387.8" fill="none" stroke="#6c10a2" stroke-width="3.1" stroke-linejoin="round" stroke-linecap="round"/>
<polyline points="166.5,438.9 167.8,440.7 169.1,441.0 170.4,440.0 171.7,439.4 172.0,439.1 173.0,439.6 174.3,439.2 175.6,438.1 176.9,437.6 178.2,436.5 179.5,435.6 179.7,435.1 180.8,436.8 182.1,437.6 183.4,439.0 184.7,439.6 185.0,439.9 186.0,439.4 187.3,437.8 188.6,438.3 189.9,439.0 191.2,438.7 192.5,439.6 193.8,438.8 195.1,437.1 196.4,437.4 197.7,438.2 199.0,438.8 200.0,438.9 200.3,438.2 201.6,437.8 202.9,438.5 204.2,439.5 205.5,438.8 206.8,438.3 208.1,439.0 209.4,440.3 210.7,439.2 212.0,437.8 213.3,439.6 214.6,440.0 215.9,439.1 217.2,438.5 218.5,438.4 219.8,437.3 221.1,439.1 222.4,439.1 223.7,439.4 225.0,440.3 226.3,439.9 227.6,439.1 228.9,438.8 230.0,439.5 230.2,439.2 231.5,439.4 232.8,439.5 234.1,440.0 235.4,439.9 236.7,440.4 238.0,439.0 239.3,439.0 240.6,438.7 241.9,439.4 243.2,439.7 244.5,439.5 245.8,440.4 247.1,440.4 248.4,440.0 249.7,439.2 251.0,439.1 252.3,439.3 253.6,438.9 254.9,437.6 256.2,437.8 257.5,438.9 258.8,438.7 260.0,439.0 260.1,439.4 261.4,439.5 262.7,438.6 264.0,438.0 265.3,438.9 266.6,438.8 267.9,437.7 269.2,437.4 270.5,437.6 271.8,436.1 273.1,436.0 274.4,436.1 275.7,435.9 277.0,436.0 278.3,435.7 279.6,434.6 280.9,434.6 282.2,435.4 283.1,435.4 283.5,435.1 284.8,435.2 286.1,436.6 287.4,438.1 288.7,439.4 290.0,439.1 290.0,439.5 291.3,440.5 292.6,440.3 293.9,438.4 295.0,437.9 295.2,438.4 296.5,436.9 297.8,438.2 299.1,438.9 300.4,438.9 301.7,438.5 303.0,439.0 304.3,438.5 305.6,438.6 306.9,440.2 307.4,439.9 308.2,439.5 309.5,439.3 310.8,438.3 312.1,439.8 313.4,440.9 314.7,440.3 316.0,439.2 317.3,438.5 318.6,438.2 319.9,437.7 321.2,438.1 322.5,439.0 323.8,438.7 324.0,438.5 325.1,438.4 326.4,438.5 327.7,436.3 328.3,434.7 329.0,433.2 330.2,430.3 330.3,429.6 331.6,434.0 332.0,436.4 332.9,440.1 333.3,440.5 334.2,440.8 335.5,441.4 336.8,439.6 338.1,438.5 339.4,438.8 340.7,439.8 342.0,440.2 343.3,440.2 344.6,438.5 345.9,437.7 346.8,437.6 347.2,437.8 348.5,436.8 349.8,433.5 350.9,431.0 351.1,429.8 352.4,423.7 353.3,420.0 353.7,418.5 355.0,411.8 355.5,411.0 356.3,413.0 357.3,415.8 357.6,416.5 358.9,423.5 359.2,423.6 360.2,427.4 361.5,428.9 362.8,430.3 363.3,431.4 364.1,431.6 365.4,432.6 366.7,434.2 368.0,435.9 369.3,436.0 369.5,436.0 370.6,436.0 371.9,436.3 373.2,437.9 374.5,438.5 375.8,437.4 377.1,437.4 377.8,437.7 378.4,438.4 379.7,437.3 381.0,437.5 382.3,439.2 383.6,438.7 384.9,437.0 386.2,435.8 387.5,435.1 388.8,434.3 390.1,433.8 390.2,434.5 391.4,435.6 392.7,436.4 394.0,437.2 395.3,436.4 396.6,436.3 397.9,438.0 399.2,438.6 400.5,437.3 401.8,438.4 402.7,438.9 403.1,438.3 404.4,437.4 405.7,438.5 407.0,437.0 408.3,437.8 409.6,438.9 410.9,438.6 412.2,439.8 413.5,439.2 414.8,437.8 416.1,437.0 417.4,438.3 418.7,438.5 419.2,438.0 420.0,437.4 421.3,438.3 422.6,437.7 423.9,436.5 425.2,436.6 426.5,435.7 427.5,435.4 427.8,436.4 429.1,437.4 430.4,436.0 431.7,437.5 433.0,438.7 434.3,439.3 435.0,439.1 435.6,439.8 436.9,439.8 438.2,439.3 439.5,439.4 440.8,439.2 442.1,438.1 443.4,437.5 444.7,437.9 446.0,438.1 447.3,437.1 448.6,436.8 449.9,437.6 451.2,437.5 451.5,436.5 452.5,436.2 453.8,436.9 455.1,437.0 456.4,435.8 457.7,435.5 459.0,437.1 460.3,437.2 461.6,437.3 462.9,437.7 464.2,438.1 465.5,437.9 466.8,437.4 468.1,438.0 469.4,438.2 470.0,438.7 470.7,438.3 472.0,437.7 473.3,437.2 474.6,437.5 475.9,438.4 477.2,438.8 478.5,438.8 479.8,438.3 481.1,438.3 482.4,437.8 483.7,438.7 485.0,438.2 485.0,437.9 486.3,437.1 487.6,438.6 488.9,436.9 490.2,436.5 491.5,436.5 492.8,435.3 494.1,436.2 495.4,436.4 496.7,435.5 498.0,434.3 499.3,435.8 500.6,436.6 500.8,435.2 501.9,436.2 503.2,435.6 504.5,435.0 505.8,433.7 507.1,435.8 508.4,437.4 509.7,437.4 511.0,438.9 512.3,437.7 513.6,437.4 514.9,438.2 515.0,438.4 516.2,438.0 517.5,438.1 518.8,438.5 520.1,438.9 521.4,437.7 522.7,439.0 524.0,438.2 525.3,437.3 526.6,436.8 527.9,438.2 529.2,437.8 530.0,437.8 530.5,437.9 531.8,439.1 533.1,438.3 534.4,437.6 535.7,436.8 537.0,436.5 538.3,437.0 539.6,437.6 540.9,437.6 542.2,438.3 543.5,437.6 544.5,437.5 544.8,436.6 546.1,436.6 547.4,437.8 548.7,438.1 550.0,438.0 551.3,438.9 552.6,437.6 553.9,437.4 555.2,438.1 556.5,438.5 557.8,439.2 559.1,437.7 560.0,438.0 560.4,437.9 561.7,439.6 563.0,439.0 564.3,437.1 565.6,437.8 566.9,438.2 568.2,438.7 569.5,438.4 570.8,437.1 572.1,437.9 573.4,439.1 574.7,438.3 575.0,437.6 576.0,436.6 577.3,438.3 578.6,438.8 579.9,438.2 581.2,437.8 582.5,437.6 583.8,437.7 585.1,436.6 586.4,436.7 587.7,436.3 589.0,436.6 589.1,437.2 590.3,437.0 591.6,436.4 592.9,436.3 594.2,436.6 595.5,437.5 596.8,437.7 598.1,438.0 599.4,437.5 600.7,438.7 602.0,439.5 603.3,439.2 604.6,438.7 605.0,438.7 605.9,439.2 607.2,438.8 608.5,437.6 609.8,437.4 610.0,436.1 611.1,431.3 611.8,425.0 612.4,420.8 613.4,415.7 613.7,416.4 615.0,422.7 615.0,423.2 615.7,429.0 616.3,430.2 617.6,434.2 618.9,435.9 619.5,436.3 620.2,436.6 621.5,437.2 622.8,436.9 624.1,435.2 625.4,434.4 626.1,434.6 626.7,434.9 628.0,436.0 629.3,438.2 630.6,438.8 630.8,438.3 631.9,438.4 633.2,437.9 634.5,437.1 635.8,435.6 637.1,434.8 638.4,434.3 638.5,434.1 639.7,433.2 641.0,430.9 641.3,430.5 642.3,431.0 643.6,433.9 644.9,436.6 645.1,436.0 646.2,435.8 647.5,432.4 648.8,429.6 649.2,429.0 650.1,430.6 651.4,435.8 651.7,436.3 652.7,434.3 654.0,434.5 655.3,435.5 655.5,434.0 656.6,431.2 657.4,430.7 657.9,430.7 659.2,433.7 660.2,437.0 660.5,436.9 661.8,439.0 663.0,439.4 663.1,439.9 664.0,439.6" fill="none" stroke="#4410d0" stroke-width="3.1" stroke-linejoin="round" stroke-linecap="round"/>
<path d="M165.3,441.6h16.5M665.5,441.6h-16.5M165.3,423.2h7.5M665.5,423.2h-7.5M165.3,404.8h16.5M665.5,404.8h-16.5M165.3,386.4h7.5M665.5,386.4h-7.5M165.3,368.0h16.5M665.5,368.0h-16.5M165.3,349.6h7.5M665.5,349.6h-7.5M165.3,331.2h16.5M665.5,331.2h-16.5M165.3,312.8h7.5M665.5,312.8h-7.5M165.3,294.4h16.5M665.5,294.4h-16.5M165.3,276.0h7.5M665.5,276.0h-7.5M165.3,257.6h16.5M665.5,257.6h-16.5M165.3,239.2h7.5M665.5,239.2h-7.5M165.3,220.7h16.5M665.5,220.7h-16.5M165.3,202.3h7.5M665.5,202.3h-7.5M165.3,183.9h16.5M665.5,183.9h-16.5M165.3,165.5h7.5M665.5,165.5h-7.5M165.3,147.1h16.5M665.5,147.1h-16.5M165.3,128.7h7.5M665.5,128.7h-7.5M165.3,110.3h16.5M665.5,110.3h-16.5M165.3,91.9h7.5M665.5,91.9h-7.5M190.8,449.0v-16.5M190.8,74.5v16.5M253.2,449.0v-7.5M253.2,74.5v7.5M315.5,449.0v-16.5M315.5,74.5v16.5M377.9,449.0v-7.5M377.9,74.5v7.5M440.2,449.0v-16.5M440.2,74.5v16.5M502.6,449.0v-7.5M502.6,74.5v7.5M564.9,449.0v-16.5M564.9,74.5v16.5M627.2,449.0v-7.5M627.2,74.5v7.5" stroke="#000" stroke-width="3.5" fill="none"/>
<rect x="165.3" y="74.5" width="500.2" height="374.5" fill="none" stroke="#000" stroke-width="4"/>
<g transform="translate(190.80,497.20)" fill="#000"><text x="-43.38" y="0" font-size="39" transform="scale(1,1.04)" style="font-kerning:none"><tspan x='-43.38' font-family='"Liberation Sans"' font-weight='normal'> 340</tspan></text><path transform="translate(-43.38,0) scale(0.01904,-0.01904)" d="M763,0L583,0L583,1147Q518,1085 412.5,1023Q307,961 223,930L223,1104Q374,1175 487,1276Q600,1377 647,1466L763,1466Z"/></g>
<g transform="translate(315.50,497.20)" fill="#000"><text x="-43.38" y="0" font-size="39" transform="scale(1,1.04)" style="font-kerning:none"><tspan x='-43.38' font-family='"Liberation Sans"' font-weight='normal'> 345</tspan></text><path transform="translate(-43.38,0) scale(0.01904,-0.01904)" d="M763,0L583,0L583,1147Q518,1085 412.5,1023Q307,961 223,930L223,1104Q374,1175 487,1276Q600,1377 647,1466L763,1466Z"/></g>
<g transform="translate(440.20,497.20)" fill="#000"><text x="-43.38" y="0" font-size="39" transform="scale(1,1.04)" style="font-kerning:none"><tspan x='-43.38' font-family='"Liberation Sans"' font-weight='normal'> 350</tspan></text><path transform="translate(-43.38,0) scale(0.01904,-0.01904)" d="M763,0L583,0L583,1147Q518,1085 412.5,1023Q307,961 223,930L223,1104Q374,1175 487,1276Q600,1377 647,1466L763,1466Z"/></g>
<g transform="translate(564.90,497.20)" fill="#000"><text x="-43.38" y="0" font-size="39" transform="scale(1,1.04)" style="font-kerning:none"><tspan x='-43.38' font-family='"Liberation Sans"' font-weight='normal'> 355</tspan></text><path transform="translate(-43.38,0) scale(0.01904,-0.01904)" d="M763,0L583,0L583,1147Q518,1085 412.5,1023Q307,961 223,930L223,1104Q374,1175 487,1276Q600,1377 647,1466L763,1466Z"/></g>
<g transform="translate(248.80,566.10)" fill="#000"><text x="0.00" y="0" font-size="44" transform="scale(1,1.04)" style="font-kerning:none"><tspan x='0.00' font-family='"Liberation Sans"' font-weight='normal'>Wavelength (nm)</tspan></text></g>
<g transform="translate(115.90,426.00) rotate(-90)" fill="#000"><text x="0.00" y="0" font-size="44" transform="scale(1,1.04)" style="font-kerning:none"><tspan x='0.00' font-family='"Liberation Sans"' font-weight='normal'>Intensity (arb. u.)</tspan></text></g>
<path d="M316.9,409V172" stroke="#000" stroke-width="2.2"/>
<path d="M316.9,153.4L311.9,173.3H321.9Z" fill="#000"/>
<g transform="translate(224.80,166.20)" fill="#000"><text x="0.00" y="0" font-size="29" transform="scale(1,1.04)" style="font-kerning:none"><tspan x='0.00' font-family='"Liberation Sans"' font-weight='bold' stroke="#000" stroke-width="0.35"> </tspan><tspan x='16.13' font-family='"Liberation Serif"' font-weight='normal'>μ</tspan><tspan x='33.48' font-family='"Liberation Sans"' font-weight='bold' stroke="#000" stroke-width="0.35">W</tspan></text><path transform="translate(0.00,0) scale(0.01416,-0.01416)" d="M856,0L575,0L575,1059Q421,915 212,846L212,1101Q322,1137 451,1237Q580,1337 628,1466L856,1466Z" stroke="#000" stroke-width="24.7"/></g>
<g transform="translate(210.50,421.70)" fill="#000"><text x="0.00" y="0" font-size="29" transform="scale(1,1.04)" style="font-kerning:none"><tspan x='0.00' font-family='"Liberation Sans"' font-weight='bold' stroke="#000" stroke-width="0.35"> 00nW</tspan></text><path transform="translate(0.00,0) scale(0.01416,-0.01416)" d="M856,0L575,0L575,1059Q421,915 212,846L212,1101Q322,1137 451,1237Q580,1337 628,1466L856,1466Z" stroke="#000" stroke-width="24.7"/></g>
<g transform="translate(335.00,165.30)" fill="#000"><text x="0.00" y="0" font-size="29" transform="scale(1,1.04)" style="font-kerning:none"><tspan x='0.00' font-family='"Liberation Sans"' font-weight='bold' stroke="#000" stroke-width="0.35">X</tspan></text></g>
<g transform="translate(366.00,137.70)" fill="#000"><text x="0.00" y="0" font-size="29" transform="scale(1,1.04)" style="font-kerning:none"><tspan x='0.00' font-family='"Liberation Sans"' font-weight='bold' stroke="#000" stroke-width="0.35">X</tspan></text></g>
<path d="M387.6,120.9h5.3" stroke="#000" stroke-width="2.6"/>
<g transform="translate(422.00,124.50)" fill="#000"><text x="0.00" y="0" font-size="29" transform="scale(1,1.04)" style="font-kerning:none"><tspan x='0.00' font-family='"Liberation Sans"' font-weight='bold' stroke="#000" stroke-width="0.35">XX</tspan></text></g>
<path d="M389.5,141.2L404,162.4" stroke="#000" stroke-width="2.2"/>
<path d="M412.8,175.3L399.4,163.2L406.4,158.4Z" fill="#000"/>
<g transform="translate(-1.00,36.50)" fill="#000"><text x="0.00" y="0" font-size="52" transform="scale(1,1.04)" style="font-kerning:none"><tspan x='0.00' font-family='"Liberation Sans"' font-weight='bold' stroke="#000" stroke-width="0.35">a</tspan></text></g>
<g transform="translate(683.00,36.50)" fill="#000"><text x="0.00" y="0" font-size="52" transform="scale(1,1.04)" style="font-kerning:none"><tspan x='0.00' font-family='"Liberation Sans"' font-weight='bold' stroke="#000" stroke-width="0.35">b</tspan></text></g>
<path d="M944.7,449.0v-7.5M944.7,74.5v7.5M970.0,449.0v-7.5M970.0,74.5v7.5M989.6,449.0v-7.5M989.6,74.5v7.5M1005.7,449.0v-7.5M1005.7,74.5v7.5M1019.2,449.0v-7.5M1019.2,74.5v7.5M1031.0,449.0v-7.5M1031.0,74.5v7.5M1041.3,449.0v-7.5M1041.3,74.5v7.5M1050.6,449.0v-16.5M1050.6,74.5v16.5M1111.6,449.0v-7.5M1111.6,74.5v7.5M1147.3,449.0v-7.5M1147.3,74.5v7.5M1172.6,449.0v-7.5M1172.6,74.5v7.5M1192.2,449.0v-7.5M1192.2,74.5v7.5M1208.3,449.0v-7.5M1208.3,74.5v7.5M1221.8,449.0v-7.5M1221.8,74.5v7.5M1233.6,449.0v-7.5M1233.6,74.5v7.5M1243.9,449.0v-7.5M1243.9,74.5v7.5M1253.2,449.0v-16.5M1253.2,74.5v16.5M1314.2,449.0v-7.5M1314.2,74.5v7.5M1349.9,449.0v-7.5M1349.9,74.5v7.5M1375.2,449.0v-7.5M1375.2,74.5v7.5M1394.8,449.0v-7.5M1394.8,74.5v7.5M1410.9,449.0v-7.5M1410.9,74.5v7.5M922.0,427.7h7.5M1420.4,427.7h-7.5M922.0,408.6h7.5M1420.4,408.6h-7.5M922.0,393.8h7.5M1420.4,393.8h-7.5M922.0,381.7h7.5M1420.4,381.7h-7.5M922.0,371.5h7.5M1420.4,371.5h-7.5M922.0,362.6h7.5M1420.4,362.6h-7.5M922.0,354.8h7.5M1420.4,354.8h-7.5M922.0,347.8h16.5M1420.4,347.8h-16.5M922.0,301.8h7.5M1420.4,301.8h-7.5M922.0,274.9h7.5M1420.4,274.9h-7.5M922.0,255.8h7.5M1420.4,255.8h-7.5M922.0,241.0h7.5M1420.4,241.0h-7.5M922.0,228.9h7.5M1420.4,228.9h-7.5M922.0,218.7h7.5M1420.4,218.7h-7.5M922.0,209.8h7.5M1420.4,209.8h-7.5M922.0,202.0h7.5M1420.4,202.0h-7.5M922.0,195.0h16.5M1420.4,195.0h-16.5M922.0,149.0h7.5M1420.4,149.0h-7.5M922.0,122.1h7.5M1420.4,122.1h-7.5M922.0,103.0h7.5M1420.4,103.0h-7.5M922.0,88.2h7.5M1420.4,88.2h-7.5" stroke="#000" stroke-width="3.5" fill="none"/>
<clipPath id="cb"><rect x="922.0" y="74.5" width="498.4000000000001" height="374.5"/></clipPath>
<circle cx="1084.1" cy="259.6" r="7.6" fill="#840306"/>
<circle cx="1118.3" cy="231.4" r="7.6" fill="#840306"/>
<circle cx="1138" cy="206.6" r="7.6" fill="#840306"/>
<circle cx="1157" cy="174.9" r="7.6" fill="#840306"/>
<circle cx="1182.4" cy="146.4" r="7.6" fill="#840306"/>
<circle cx="1204.1" cy="124.5" r="7.6" fill="#840306"/>
<circle cx="1226.4" cy="110" r="7.6" fill="#840306"/>
<circle cx="1249.1" cy="100.2" r="7.6" fill="#840306"/>
<circle cx="1267.2" cy="97.6" r="7.6" fill="#840306"/>
<circle cx="1280.2" cy="101.7" r="7.6" fill="#840306"/>
<circle cx="1298.3" cy="104.3" r="7.6" fill="#840306"/>
<circle cx="1312.8" cy="109" r="7.6" fill="#840306"/>
<circle cx="1022.5" cy="325.9" r="7.6" fill="#0b4189"/>
<circle cx="1064" cy="301.5" r="7.6" fill="#0b4189"/>
<circle cx="1087.2" cy="272.8" r="7.6" fill="#0b4189"/>
<circle cx="1117.3" cy="249" r="7.6" fill="#0b4189"/>
<circle cx="1137.6" cy="229.4" r="7.6" fill="#0b4189"/>
<circle cx="1157" cy="191.1" r="7.6" fill="#0b4189"/>
<circle cx="1181" cy="174.5" r="7.6" fill="#0b4189"/>
<circle cx="1204.1" cy="157.2" r="7.6" fill="#0b4189"/>
<circle cx="1225.9" cy="151.2" r="7.6" fill="#0b4189"/>
<circle cx="1248.8" cy="145.7" r="7.6" fill="#0b4189"/>
<circle cx="1266.9" cy="142.3" r="7.6" fill="#0b4189"/>
<circle cx="1279.4" cy="143.2" r="7.6" fill="#0b4189"/>
<circle cx="955" cy="279.1" r="7.6" fill="#1e461b"/>
<circle cx="962.9" cy="283.1" r="7.6" fill="#1e461b"/>
<circle cx="980.6" cy="261.4" r="7.6" fill="#1e461b"/>
<circle cx="999.6" cy="235.6" r="7.6" fill="#1e461b"/>
<circle cx="1003.3" cy="218" r="7.6" fill="#1e461b"/>
<circle cx="1022.8" cy="198.6" r="7.6" fill="#1e461b"/>
<circle cx="1035.2" cy="179" r="7.6" fill="#1e461b"/>
<circle cx="1062.1" cy="160.7" r="7.6" fill="#1e461b"/>
<circle cx="1085.9" cy="136.9" r="7.6" fill="#1e461b"/>
<circle cx="1117.2" cy="117.4" r="7.6" fill="#1e461b"/>
<circle cx="1137.4" cy="101.4" r="7.6" fill="#1e461b"/>
<circle cx="1157.2" cy="90.9" r="7.6" fill="#1e461b"/>
<circle cx="1181" cy="90.5" r="7.6" fill="#1e461b"/>
<circle cx="1204.1" cy="99.1" r="7.6" fill="#1e461b"/>
<circle cx="1225.9" cy="107.9" r="7.6" fill="#1e461b"/>
<circle cx="1249.1" cy="122.9" r="7.6" fill="#1e461b"/>
<polyline points="1036.0,352.7 1037.3,350.2 1038.5,347.7 1039.8,345.2 1041.0,342.7 1042.3,340.2 1043.5,337.8 1044.8,335.4 1046.0,333.0 1047.3,330.6 1048.5,328.2 1049.8,325.9 1051.0,323.6 1052.3,321.3 1053.5,319.0 1054.8,316.7 1056.0,314.5 1057.3,312.3 1058.5,310.1 1059.8,307.9 1061.0,305.7 1062.3,303.5 1063.5,301.4 1064.8,299.2 1066.0,297.1 1067.3,295.0 1068.5,292.9 1069.8,290.9 1071.0,288.8 1072.3,286.8 1073.5,284.7 1074.8,282.7 1076.0,280.7 1077.3,278.7 1078.5,276.8 1079.8,274.8 1081.0,272.9 1082.3,270.9 1083.5,269.0 1084.8,267.1 1086.0,265.2 1087.3,263.3 1088.5,261.4 1089.8,259.5 1091.0,257.7 1092.3,255.8 1093.5,254.0 1094.8,252.2 1096.0,250.4 1097.3,248.6 1098.5,246.8 1099.8,245.0 1101.0,243.2 1102.3,241.5 1103.5,239.7 1104.8,238.0 1106.0,236.2 1107.3,234.5 1108.5,232.8 1109.8,231.1 1111.0,229.4 1112.3,227.7 1113.5,226.0 1114.8,224.3 1116.0,222.7 1117.3,221.0 1118.5,219.4 1119.8,217.7 1121.0,216.1 1122.3,214.5 1123.5,212.9 1124.8,211.3 1126.0,209.7 1127.3,208.1 1128.5,206.5 1129.8,204.9 1131.0,203.4 1132.3,201.8 1133.6,200.3 1134.8,198.7 1136.1,197.2 1137.3,195.7 1138.6,194.2 1139.8,192.6 1141.1,191.1 1142.3,189.7 1143.6,188.2 1144.8,186.7 1146.1,185.2 1147.3,183.8 1148.6,182.3 1149.8,180.9 1151.1,179.4 1152.3,178.0 1153.6,176.6 1154.8,175.2 1156.1,173.8 1157.3,172.4 1158.6,171.0 1159.8,169.6 1161.1,168.2 1162.3,166.9 1163.6,165.5 1164.8,164.2 1166.1,162.8 1167.3,161.5 1168.6,160.2 1169.8,158.9 1171.1,157.6 1172.3,156.3 1173.6,155.0 1174.8,153.7 1176.1,152.5 1177.3,151.2 1178.6,150.0 1179.8,148.7 1181.1,147.5 1182.3,146.3 1183.6,145.1 1184.8,143.9 1186.1,142.7 1187.3,141.5 1188.6,140.4 1189.8,139.2 1191.1,138.1 1192.3,136.9 1193.6,135.8 1194.8,134.7 1196.1,133.6 1197.3,132.5 1198.6,131.5 1199.8,130.4 1201.1,129.4 1202.3,128.3 1203.6,127.3 1204.8,126.3 1206.1,125.3 1207.3,124.3 1208.6,123.3 1209.8,122.4 1211.1,121.4 1212.3,120.5 1213.6,119.6 1214.8,118.7 1216.1,117.8 1217.3,116.9 1218.6,116.1 1219.8,115.3 1221.1,114.4 1222.3,113.6 1223.6,112.8 1224.8,112.0 1226.1,111.3 1227.3,110.5 1228.6,109.8 1229.8,109.1 1231.1,108.4 1232.4,107.7 1233.6,107.1 1234.9,106.4 1236.1,105.8 1237.4,105.2 1238.6,104.6 1239.9,104.1 1241.1,103.5 1242.4,103.0 1243.6,102.5 1244.9,102.0 1246.1,101.6 1247.4,101.1 1248.6,100.7 1249.9,100.3 1251.1,99.9 1252.4,99.6 1253.6,99.2 1254.9,98.9 1256.1,98.6 1257.4,98.4 1258.6,98.1 1259.9,97.9 1261.1,97.7 1262.4,97.6 1263.6,97.4 1264.9,97.3 1266.1,97.2 1267.4,97.2 1268.6,97.1 1269.9,97.1 1271.1,97.1 1272.4,97.2 1273.6,97.3 1274.9,97.4 1276.1,97.5 1277.4,97.7 1278.6,97.8 1279.9,98.1 1281.1,98.3 1282.4,98.6 1283.6,98.9 1284.9,99.2 1286.1,99.6 1287.4,100.0 1288.6,100.5 1289.9,100.9 1291.1,101.4 1292.4,102.0 1293.6,102.6 1294.9,103.2 1296.1,103.8 1297.4,104.5 1298.6,105.2 1299.9,106.0 1301.1,106.8 1302.4,107.6 1303.6,108.5 1304.9,109.4 1306.1,110.3 1307.4,111.3 1308.6,112.4 1309.9,113.4 1311.1,114.5 1312.4,115.7 1313.6,116.9 1314.9,118.1 1316.1,119.4 1317.4,120.8 1318.6,122.1 1319.9,123.6 1321.1,125.0 1322.4,126.5 1323.6,128.1 1324.9,129.7 1326.1,131.4 1327.4,133.1 1328.7,134.9 1329.9,136.7 1331.2,138.6 1332.4,140.5 1333.7,142.5 1334.9,144.5 1336.2,146.6 1337.4,148.7 1338.7,150.9 1339.9,153.2 1341.2,155.5 1342.4,157.9 1343.7,160.4 1344.9,162.9 1346.2,165.5 1347.4,168.1 1348.7,170.8 1349.9,173.6 1351.2,176.5 1352.4,179.4 1353.7,182.4 1354.9,185.5 1356.2,188.6 1357.4,191.8 1358.7,195.1 1359.9,198.5 1361.2,202.0 1362.4,205.6 1363.7,209.2 1364.9,213.0 1366.2,216.8 1367.4,220.8 1368.7,224.8 1369.9,228.9 1371.2,233.2 1372.4,237.6 1373.7,242.1 1374.9,246.7 1376.2,251.4 1377.4,256.3 1378.7,261.3 1379.9,266.4 1381.2,271.7 1382.4,277.2 1383.7,282.8 1384.9,288.7 1386.2,294.7 1387.4,300.9 1388.7,307.4 1389.9,314.0 1391.2,321.0 1392.4,328.2 1393.7,335.8 1394.9,343.7 1396.2,352.0 1397.4,360.7 1398.7,369.9 1399.9,379.7 1401.2,390.2 1402.4,401.4 1403.7,413.6 1404.9,427.1 1406.2,442.1 1407.4,459.1" fill="none" stroke="#840306" stroke-width="4.3" stroke-linejoin="round" clip-path="url(#cb)"/>
<polyline points="1036.0,339.5 1037.3,336.7 1038.5,333.9 1039.8,331.2 1041.1,328.5 1042.3,325.8 1043.6,323.2 1044.9,320.7 1046.2,318.2 1047.4,315.7 1048.7,313.3 1050.0,310.9 1051.2,308.6 1052.5,306.3 1053.8,304.0 1055.0,301.8 1056.3,299.6 1057.6,297.4 1058.8,295.3 1060.1,293.2 1061.4,291.2 1062.6,289.2 1063.9,287.2 1065.2,285.2 1066.5,283.3 1067.7,281.4 1069.0,279.5 1070.3,277.7 1071.5,275.9 1072.8,274.1 1074.1,272.4 1075.3,270.6 1076.6,268.9 1077.9,267.3 1079.1,265.6 1080.4,264.0 1081.7,262.4 1083.0,260.8 1084.2,259.2 1085.5,257.7 1086.8,256.2 1088.0,254.7 1089.3,253.2 1090.6,251.8 1091.8,250.3 1093.1,248.9 1094.4,247.5 1095.6,246.1 1096.9,244.7 1098.2,243.4 1099.5,242.1 1100.7,240.7 1102.0,239.4 1103.3,238.2 1104.5,236.9 1105.8,235.6 1107.1,234.4 1108.3,233.2 1109.6,231.9 1110.9,230.7 1112.1,229.5 1113.4,228.4 1114.7,227.2 1115.9,226.0 1117.2,224.9 1118.5,223.8 1119.8,222.6 1121.0,221.5 1122.3,220.4 1123.6,219.3 1124.8,218.3 1126.1,217.2 1127.4,216.1 1128.6,215.1 1129.9,214.0 1131.2,213.0 1132.4,212.0 1133.7,210.9 1135.0,209.9 1136.3,208.9 1137.5,207.9 1138.8,206.9 1140.1,205.9 1141.3,205.0 1142.6,204.0 1143.9,203.0 1145.1,202.1 1146.4,201.1 1147.7,200.2 1148.9,199.3 1150.2,198.3 1151.5,197.4 1152.8,196.5 1154.0,195.6 1155.3,194.7 1156.6,193.8 1157.8,192.9 1159.1,192.0 1160.4,191.1 1161.6,190.2 1162.9,189.3 1164.2,188.5 1165.4,187.6 1166.7,186.8 1168.0,185.9 1169.2,185.1 1170.5,184.2 1171.8,183.4 1173.1,182.6 1174.3,181.7 1175.6,180.9 1176.9,180.1 1178.1,179.3 1179.4,178.5 1180.7,177.7 1181.9,176.9 1183.2,176.1 1184.5,175.3 1185.7,174.5 1187.0,173.8 1188.3,173.0 1189.6,172.2 1190.8,171.5 1192.1,170.7 1193.4,170.0 1194.6,169.2 1195.9,168.5 1197.2,167.8 1198.4,167.1 1199.7,166.4 1201.0,165.7 1202.2,165.0 1203.5,164.3 1204.8,163.6 1206.0,162.9 1207.3,162.2 1208.6,161.6 1209.9,160.9 1211.1,160.2 1212.4,159.6 1213.7,159.0 1214.9,158.3 1216.2,157.7 1217.5,157.1 1218.7,156.5 1220.0,155.9 1221.3,155.3 1222.5,154.7 1223.8,154.1 1225.1,153.6 1226.4,153.0 1227.6,152.5 1228.9,151.9 1230.2,151.4 1231.4,150.9 1232.7,150.4 1234.0,149.9 1235.2,149.4 1236.5,148.9 1237.8,148.5 1239.0,148.0 1240.3,147.6 1241.6,147.1 1242.9,146.7 1244.1,146.3 1245.4,145.9 1246.7,145.5 1247.9,145.1 1249.2,144.7 1250.5,144.4 1251.7,144.1 1253.0,143.7 1254.3,143.4 1255.5,143.1 1256.8,142.8 1258.1,142.5 1259.3,142.3 1260.6,142.0 1261.9,141.8 1263.2,141.6 1264.4,141.4 1265.7,141.2 1267.0,141.0 1268.2,140.8 1269.5,140.7 1270.8,140.6 1272.0,140.4 1273.3,140.3 1274.6,140.3 1275.8,140.2 1277.1,140.1 1278.4,140.1 1279.7,140.1 1280.9,140.1 1282.2,140.1 1283.5,140.1 1284.7,140.2 1286.0,140.3 1287.3,140.3 1288.5,140.5 1289.8,140.6 1291.1,140.7 1292.3,140.9 1293.6,141.1 1294.9,141.3 1296.1,141.5 1297.4,141.7 1298.7,142.0 1300.0,142.3 1301.2,142.6 1302.5,142.9 1303.8,143.3 1305.0,143.6 1306.3,144.0 1307.6,144.4 1308.8,144.9 1310.1,145.3 1311.4,145.8 1312.6,146.3 1313.9,146.8 1315.2,147.4 1316.5,148.0 1317.7,148.6 1319.0,149.2 1320.3,149.8 1321.5,150.5 1322.8,151.2 1324.1,151.9 1325.3,152.7 1326.6,153.5 1327.9,154.3 1329.1,155.1 1330.4,156.0 1331.7,156.9 1333.0,157.8 1334.2,158.7 1335.5,159.7 1336.8,160.7 1338.0,161.7 1339.3,162.8 1340.6,163.9 1341.8,165.0 1343.1,166.2 1344.4,167.4 1345.6,168.6 1346.9,169.9 1348.2,171.2 1349.4,172.5 1350.7,173.9 1352.0,175.3 1353.3,176.7 1354.5,178.2 1355.8,179.7 1357.1,181.3 1358.3,182.9 1359.6,184.5 1360.9,186.2 1362.1,188.0 1363.4,189.8 1364.7,191.6 1365.9,193.5 1367.2,195.4 1368.5,197.4 1369.8,199.4 1371.0,201.5 1372.3,203.7 1373.6,205.9 1374.8,208.2 1376.1,210.6 1377.4,213.0 1378.6,215.5 1379.9,218.1 1381.2,220.7 1382.4,223.5 1383.7,226.3 1385.0,229.3 1386.3,232.3 1387.5,235.5 1388.8,238.8 1390.1,242.2 1391.3,245.8 1392.6,249.5 1393.9,253.4 1395.1,257.4 1396.4,261.7 1397.7,266.2 1398.9,270.9 1400.2,276.0 1401.5,281.3 1402.7,287.0 1404.0,293.2 1405.3,299.8 1406.6,307.0 1407.8,315.0 1409.1,323.8 1410.4,333.7 1411.6,345.0 1412.9,358.3 1414.2,374.3 1415.4,394.7 1415.4,394.9 1415.6,398.6 1415.8,402.3 1416.0,406.0 1416.2,409.7 1416.3,413.4 1416.5,417.0 1416.6,420.7 1416.8,424.4 1416.9,428.1 1417.0,431.8 1417.2,435.5 1417.3,439.2 1417.4,442.8 1417.5,446.5 1417.6,450.2 1417.7,453.9 1417.8,457.5" fill="none" stroke="#0b4189" stroke-width="4.3" stroke-linejoin="round" clip-path="url(#cb)"/>
<polyline points="988.3,247.7 989.4,245.6 990.5,243.6 991.5,241.7 992.6,239.7 993.7,237.8 994.8,235.9 995.9,234.0 996.9,232.1 998.0,230.3 999.1,228.5 1000.2,226.7 1001.3,224.9 1002.3,223.1 1003.4,221.4 1004.5,219.7 1005.6,218.0 1006.7,216.4 1007.7,214.7 1008.8,213.1 1009.9,211.5 1011.0,209.9 1012.1,208.3 1013.1,206.7 1014.2,205.2 1015.3,203.7 1016.4,202.2 1017.5,200.7 1018.5,199.3 1019.6,197.8 1020.7,196.4 1021.8,195.0 1022.9,193.6 1023.9,192.2 1025.0,190.8 1026.1,189.5 1027.2,188.1 1028.3,186.8 1029.3,185.5 1030.4,184.2 1031.5,182.9 1032.6,181.7 1033.7,180.4 1034.7,179.2 1035.8,178.0 1036.9,176.7 1038.0,175.6 1039.1,174.4 1040.1,173.2 1041.2,172.0 1042.3,170.9 1043.4,169.8 1044.5,168.6 1045.5,167.5 1046.6,166.4 1047.7,165.3 1048.8,164.3 1049.9,163.2 1050.9,162.2 1052.0,161.1 1053.1,160.1 1054.2,159.1 1055.3,158.1 1056.3,157.1 1057.4,156.1 1058.5,155.1 1059.6,154.1 1060.7,153.2 1061.7,152.2 1062.8,151.3 1063.9,150.3 1065.0,149.4 1066.1,148.5 1067.1,147.6 1068.2,146.7 1069.3,145.8 1070.4,144.9 1071.5,144.0 1072.5,143.2 1073.6,142.3 1074.7,141.5 1075.8,140.6 1076.9,139.8 1077.9,139.0 1079.0,138.2 1080.1,137.4 1081.2,136.6 1082.3,135.8 1083.3,135.0 1084.4,134.2 1085.5,133.4 1086.6,132.7 1087.7,131.9 1088.7,131.2 1089.8,130.4 1090.9,129.7 1092.0,129.0 1093.1,128.3 1094.1,127.5 1095.2,126.8 1096.3,126.1 1097.4,125.5 1098.5,124.8 1099.5,124.1 1100.6,123.4 1101.7,122.7 1102.8,122.1 1103.9,121.4 1104.9,120.8 1106.0,120.1 1107.1,119.5 1108.2,118.9 1109.3,118.3 1110.3,117.7 1111.4,117.0 1112.5,116.4 1113.6,115.9 1114.7,115.3 1115.7,114.7 1116.8,114.1 1117.9,113.5 1119.0,113.0 1120.1,112.4 1121.1,111.9 1122.2,111.3 1123.3,110.8 1124.4,110.3 1125.5,109.7 1126.5,109.2 1127.6,108.7 1128.7,108.2 1129.8,107.7 1130.9,107.2 1131.9,106.7 1133.0,106.2 1134.1,105.8 1135.2,105.3 1136.3,104.9 1137.3,104.4 1138.4,104.0 1139.5,103.5 1140.6,103.1 1141.7,102.7 1142.7,102.3 1143.8,101.8 1144.9,101.4 1146.0,101.1 1147.1,100.7 1148.1,100.3 1149.2,99.9 1150.3,99.5 1151.4,99.2 1152.5,98.8 1153.5,98.5 1154.6,98.2 1155.7,97.8 1156.8,97.5 1157.9,97.2 1158.9,96.9 1160.0,96.6 1161.1,96.3 1162.2,96.1 1163.3,95.8 1164.3,95.5 1165.4,95.3 1166.5,95.1 1167.6,94.8 1168.7,94.6 1169.7,94.4 1170.8,94.2 1171.9,94.0 1173.0,93.8 1174.1,93.6 1175.1,93.5 1176.2,93.3 1177.3,93.2 1178.4,93.0 1179.5,92.9 1180.5,92.8 1181.6,92.7 1182.7,92.6 1183.8,92.5 1184.9,92.5 1185.9,92.4 1187.0,92.4 1188.1,92.3 1189.2,92.3 1190.3,92.3 1191.3,92.3 1192.4,92.3 1193.5,92.3 1194.6,92.4 1195.7,92.4 1196.7,92.5 1197.8,92.6 1198.9,92.7 1200.0,92.8 1201.1,92.9 1202.1,93.0 1203.2,93.2 1204.3,93.3 1205.4,93.5 1206.5,93.7 1207.5,93.9 1208.6,94.1 1209.7,94.4 1210.8,94.6 1211.9,94.9 1212.9,95.2 1214.0,95.5 1215.1,95.8 1216.2,96.1 1217.3,96.5 1218.3,96.9 1219.4,97.3 1220.5,97.7 1221.6,98.1 1222.7,98.5 1223.7,99.0 1224.8,99.5 1225.9,100.0 1227.0,100.5 1228.1,101.1 1229.1,101.7 1230.2,102.2 1231.3,102.9 1232.4,103.5 1233.5,104.2 1234.5,104.8 1235.6,105.5 1236.7,106.3 1237.8,107.0 1238.9,107.8 1239.9,108.6 1241.0,109.5 1242.1,110.3 1243.2,111.2 1244.3,112.1 1245.3,113.1 1246.4,114.0 1247.5,115.0 1248.6,116.1 1249.7,117.1 1250.7,118.2 1251.8,119.4 1252.9,120.5 1254.0,121.7 1255.1,123.0 1256.1,124.3 1257.2,125.6 1258.3,126.9 1259.4,128.3 1260.5,129.7 1261.5,131.2 1262.6,132.7 1263.7,134.3 1264.8,135.9 1265.9,137.5 1266.9,139.3 1268.0,141.0 1269.1,142.8 1270.2,144.7 1271.3,146.6 1272.3,148.6 1273.4,150.6 1274.5,152.8 1275.6,154.9 1276.7,157.2 1277.7,159.5 1278.8,161.9 1279.9,164.4 1281.0,167.0 1282.1,169.6 1283.1,172.4 1284.2,175.3 1285.3,178.2 1286.4,181.3 1287.5,184.5 1288.5,187.9 1289.6,191.3 1290.7,195.0 1291.8,198.8 1292.9,202.7 1293.9,206.9 1295.0,211.3 1296.1,215.9 1297.2,220.8 1298.3,226.0 1299.3,231.5 1300.4,237.3 1301.5,243.6 1302.6,250.4 1303.7,257.8 1304.7,265.9 1305.8,274.8 1306.9,284.7 1308.0,295.9 1309.1,308.9 1310.1,324.3 1311.2,343.2 1311.2,343.4 1311.4,347.4 1311.6,351.3 1311.8,355.3 1312.0,359.2 1312.1,363.2 1312.3,367.1 1312.4,371.1 1312.6,375.0 1312.7,378.9 1312.8,382.8 1312.9,386.8 1313.1,390.7 1313.2,394.6 1313.3,398.5 1313.4,402.4 1313.5,406.3 1313.5,410.3 1313.6,414.2 1313.7,418.1 1313.8,422.0 1313.9,425.9 1313.9,429.8 1314.0,433.7 1314.1,437.5 1314.1,441.4 1314.2,445.3 1314.2,449.2 1314.3,453.1 1314.3,457.0" fill="none" stroke="#1e461b" stroke-width="4.3" stroke-linejoin="round" clip-path="url(#cb)"/>
<rect x="922.0" y="74.5" width="498.4000000000001" height="374.5" fill="none" stroke="#000" stroke-width="4"/>
<g transform="translate(903.80,205.50)" fill="#000"><text x="-86.76" y="0" font-size="39" transform="scale(1,1.04)" style="font-kerning:none"><tspan x='-86.76' font-family='"Liberation Sans"' font-weight='normal'> 000</tspan></text><path transform="translate(-86.76,0) scale(0.01904,-0.01904)" d="M763,0L583,0L583,1147Q518,1085 412.5,1023Q307,961 223,930L223,1104Q374,1175 487,1276Q600,1377 647,1466L763,1466Z"/></g>
<g transform="translate(903.80,358.30)" fill="#000"><text x="-65.07" y="0" font-size="39" transform="scale(1,1.04)" style="font-kerning:none"><tspan x='-65.07' font-family='"Liberation Sans"' font-weight='normal'> 00</tspan></text><path transform="translate(-65.07,0) scale(0.01904,-0.01904)" d="M763,0L583,0L583,1147Q518,1085 412.5,1023Q307,961 223,930L223,1104Q374,1175 487,1276Q600,1377 647,1466L763,1466Z"/></g>
<g transform="translate(1050.60,497.20)" fill="#000"><text x="-27.11" y="0" font-size="39" transform="scale(1,1.04)" style="font-kerning:none"><tspan x='-27.11' font-family='"Liberation Sans"' font-weight='normal'>0. </tspan></text><path transform="translate(5.42,0) scale(0.01904,-0.01904)" d="M763,0L583,0L583,1147Q518,1085 412.5,1023Q307,961 223,930L223,1104Q374,1175 487,1276Q600,1377 647,1466L763,1466Z"/></g>
<g transform="translate(1253.20,497.20)" fill="#000"><text x="-10.84" y="0" font-size="39" transform="scale(1,1.04)" style="font-kerning:none"><tspan x='-10.84' font-family='"Liberation Sans"' font-weight='normal'> </tspan></text><path transform="translate(-10.84,0) scale(0.01904,-0.01904)" d="M763,0L583,0L583,1147Q518,1085 412.5,1023Q307,961 223,930L223,1104Q374,1175 487,1276Q600,1377 647,1466L763,1466Z"/></g>
<g transform="translate(1053.70,571.00)" fill="#000"><text x="0.00" y="0" font-size="44" transform="scale(1,1.04)" style="font-kerning:none"><tspan x='0.00' font-family='"Liberation Sans"' font-weight='normal'>Power (</tspan><tspan x='151.59' font-family='"Liberation Serif"' font-weight='normal'>μ</tspan><tspan x='178.18' font-family='"Liberation Sans"' font-weight='normal'>W)</tspan></text></g>
<g transform="translate(800.00,440.00) rotate(-90)" fill="#000"><text x="0.00" y="0" font-size="44" transform="scale(1,1.04)" style="font-kerning:none"><tspan x='0.00' font-family='"Liberation Sans"' font-weight='normal'>Intensity (cts./ 0s)</tspan></text><path transform="translate(271.41,0) scale(0.02148,-0.02148)" d="M763,0L583,0L583,1147Q518,1085 412.5,1023Q307,961 223,930L223,1104Q374,1175 487,1276Q600,1377 647,1466L763,1466Z"/></g>
<g transform="translate(958.00,135.80)" fill="#2e3a18"><text x="0.00" y="0" font-size="26.5" transform="scale(1,1.04)" style="font-kerning:none"><tspan x='0.00' font-family='"Liberation Sans"' font-weight='bold' stroke="#2e3a18" stroke-width="0.35">n= , X</tspan></text><path transform="translate(31.66,0) scale(0.01294,-0.01294)" d="M856,0L575,0L575,1059Q421,915 212,846L212,1101Q322,1137 451,1237Q580,1337 628,1466L856,1466Z" stroke="#2e3a18" stroke-width="27.0"/></g>
<g transform="translate(1188.50,250.20)" fill="#173f7d"><text x="0.00" y="0" font-size="27" transform="scale(1,1.04)" style="font-kerning:none"><tspan x='0.00' font-family='"Liberation Sans"' font-weight='bold' stroke="#173f7d" stroke-width="0.35">n= ,X</tspan></text><path transform="translate(32.26,0) scale(0.01318,-0.01318)" d="M856,0L575,0L575,1059Q421,915 212,846L212,1101Q322,1137 451,1237Q580,1337 628,1466L856,1466Z" stroke="#173f7d" stroke-width="26.5"/></g>
<path d="M1260.6,235.1h5.6" stroke="#173f7d" stroke-width="2"/>
<g transform="translate(1104.00,359.70)" fill="#700c12"><text x="0.00" y="0" font-size="27" transform="scale(1,1.04)" style="font-kerning:none"><tspan x='0.00' font-family='"Liberation Sans"' font-weight='bold' stroke="#700c12" stroke-width="0.35">n=2,XX</tspan></text></g>
</svg></body></html>
